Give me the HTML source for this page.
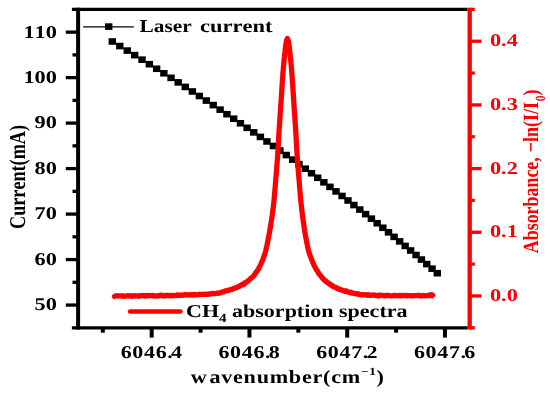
<!DOCTYPE html>
<html><head><meta charset="utf-8"><title>chart</title>
<style>
html,body{margin:0;padding:0;background:#fff;}
svg{display:block;}
text{font-family:"Liberation Serif","DejaVu Serif",serif;font-weight:bold;font-kerning:none;text-rendering:geometricPrecision;}
</style></head><body>
<svg width="550" height="393" viewBox="0 0 550 393">
<rect width="550" height="393" fill="#fff"/>
<polyline fill="none" stroke="#000" stroke-width="1" points="112.3,41.5 119.8,46.0 127.3,50.6 134.7,55.1 142.0,59.7 149.4,64.2 156.6,68.8 163.9,73.3 171.1,77.8 178.2,82.4 185.3,86.9 192.3,91.5 199.4,96.0 206.3,100.6 213.2,105.1 220.1,109.6 226.9,114.2 233.7,118.7 240.4,123.3 247.1,127.8 253.8,132.4 260.4,136.9 266.9,141.4 273.4,146.0 279.9,150.5 286.3,155.1 292.7,159.6 299.0,164.2 305.3,168.7 311.5,173.2 317.7,177.8 323.9,182.3 330.0,186.9 336.0,191.4 342.0,196.0 348.0,200.5 353.9,205.0 359.8,209.6 365.6,214.1 371.4,218.7 377.1,223.2 382.8,227.8 388.5,232.3 394.1,236.8 399.7,241.4 405.2,245.9 410.6,250.5 416.1,255.0 421.4,259.6 426.8,264.1 432.1,268.6 437.3,273.2"/>
<g fill="#000"><rect x="108.60" y="38.20" width="7.4" height="6.6"/><rect x="116.10" y="42.74" width="7.4" height="6.6"/><rect x="123.56" y="47.29" width="7.4" height="6.6"/><rect x="130.97" y="51.83" width="7.4" height="6.6"/><rect x="138.34" y="56.37" width="7.4" height="6.6"/><rect x="145.66" y="60.92" width="7.4" height="6.6"/><rect x="152.94" y="65.46" width="7.4" height="6.6"/><rect x="160.17" y="70.00" width="7.4" height="6.6"/><rect x="167.36" y="74.54" width="7.4" height="6.6"/><rect x="174.50" y="79.09" width="7.4" height="6.6"/><rect x="181.60" y="83.63" width="7.4" height="6.6"/><rect x="188.65" y="88.17" width="7.4" height="6.6"/><rect x="195.65" y="92.72" width="7.4" height="6.6"/><rect x="202.62" y="97.26" width="7.4" height="6.6"/><rect x="209.53" y="101.80" width="7.4" height="6.6"/><rect x="216.40" y="106.34" width="7.4" height="6.6"/><rect x="223.23" y="110.89" width="7.4" height="6.6"/><rect x="230.00" y="115.43" width="7.4" height="6.6"/><rect x="236.74" y="119.97" width="7.4" height="6.6"/><rect x="243.43" y="124.52" width="7.4" height="6.6"/><rect x="250.07" y="129.06" width="7.4" height="6.6"/><rect x="256.67" y="133.60" width="7.4" height="6.6"/><rect x="263.22" y="138.15" width="7.4" height="6.6"/><rect x="269.73" y="142.69" width="7.4" height="6.6"/><rect x="276.19" y="147.23" width="7.4" height="6.6"/><rect x="282.61" y="151.77" width="7.4" height="6.6"/><rect x="288.98" y="156.32" width="7.4" height="6.6"/><rect x="295.31" y="160.86" width="7.4" height="6.6"/><rect x="301.59" y="165.40" width="7.4" height="6.6"/><rect x="307.83" y="169.95" width="7.4" height="6.6"/><rect x="314.02" y="174.49" width="7.4" height="6.6"/><rect x="320.17" y="179.03" width="7.4" height="6.6"/><rect x="326.27" y="183.58" width="7.4" height="6.6"/><rect x="332.32" y="188.12" width="7.4" height="6.6"/><rect x="338.34" y="192.66" width="7.4" height="6.6"/><rect x="344.30" y="197.20" width="7.4" height="6.6"/><rect x="350.22" y="201.75" width="7.4" height="6.6"/><rect x="356.10" y="206.29" width="7.4" height="6.6"/><rect x="361.92" y="210.83" width="7.4" height="6.6"/><rect x="367.71" y="215.38" width="7.4" height="6.6"/><rect x="373.45" y="219.92" width="7.4" height="6.6"/><rect x="379.14" y="224.46" width="7.4" height="6.6"/><rect x="384.79" y="229.01" width="7.4" height="6.6"/><rect x="390.39" y="233.55" width="7.4" height="6.6"/><rect x="395.95" y="238.09" width="7.4" height="6.6"/><rect x="401.46" y="242.63" width="7.4" height="6.6"/><rect x="406.93" y="247.18" width="7.4" height="6.6"/><rect x="412.35" y="251.72" width="7.4" height="6.6"/><rect x="417.73" y="256.26" width="7.4" height="6.6"/><rect x="423.06" y="260.81" width="7.4" height="6.6"/><rect x="428.35" y="265.35" width="7.4" height="6.6"/><rect x="433.59" y="269.89" width="7.4" height="6.6"/></g>
<polyline fill="none" stroke="#ff0000" stroke-width="5.25" stroke-linejoin="round" stroke-linecap="round" points="114.5,296.4 115.0,296.1 115.8,296.0 116.6,295.6 117.4,295.9 118.2,295.9 119.0,296.0 119.8,295.9 120.6,296.0 121.4,295.9 122.2,295.7 123.0,296.2 123.8,296.2 124.6,296.4 125.4,296.0 126.2,295.9 127.0,295.9 127.8,295.6 128.6,296.2 129.4,295.7 130.2,295.7 131.0,295.9 131.8,296.3 132.6,296.0 133.4,295.7 134.2,295.8 135.0,296.1 135.8,295.9 136.6,295.8 137.4,295.9 138.2,296.1 139.0,296.3 139.8,295.6 140.6,295.8 141.4,295.7 142.2,295.4 143.0,295.7 143.8,295.6 144.6,296.1 145.4,295.8 146.2,295.5 147.0,296.0 147.8,295.8 148.6,295.4 149.4,295.7 150.2,295.7 151.0,295.6 151.8,295.8 152.6,295.3 153.4,295.7 154.2,296.0 155.0,295.9 155.8,296.0 156.6,296.0 157.4,296.0 158.2,295.4 159.0,295.9 159.8,295.3 160.6,295.5 161.4,295.2 162.2,295.9 163.0,295.9 163.8,295.6 164.6,296.0 165.4,295.4 166.2,295.6 167.0,295.6 167.8,295.3 168.6,295.6 169.4,295.9 170.2,295.3 171.0,295.7 171.8,295.4 172.6,295.8 173.4,295.5 174.2,295.5 175.0,295.5 175.8,295.4 176.6,295.0 177.4,295.6 178.2,295.0 179.0,295.3 179.8,295.4 180.6,295.0 181.4,295.2 182.2,295.4 183.0,295.1 183.8,294.9 184.6,294.5 185.4,294.9 186.2,294.9 187.0,294.9 187.8,294.8 188.6,295.0 189.4,294.8 190.2,294.9 191.0,295.0 191.8,294.6 192.6,294.7 193.4,295.2 194.2,294.9 195.0,294.4 195.8,294.7 196.6,294.8 197.4,294.9 198.2,294.6 199.0,294.4 199.8,294.4 200.6,294.6 201.4,294.5 202.2,294.3 203.0,294.3 203.8,294.2 204.6,294.4 205.4,294.1 206.2,294.3 207.0,294.3 207.8,294.2 208.6,293.8 209.4,294.3 210.2,293.8 211.0,293.9 211.8,293.6 212.6,293.3 213.4,293.7 214.1,293.6 214.9,293.5 215.7,293.5 216.5,293.2 217.3,293.0 218.1,293.0 218.9,293.3 219.6,292.9 220.4,292.4 221.2,292.5 222.0,292.0 222.8,291.8 223.5,291.9 224.3,291.4 225.1,290.9 225.9,290.8 226.6,290.8 227.4,290.6 228.2,290.6 228.9,290.0 229.7,290.1 230.5,289.8 231.2,289.4 232.0,289.4 232.8,289.0 233.5,288.5 234.3,288.6 235.0,287.8 235.8,287.8 236.5,287.5 237.2,287.3 238.0,286.7 238.7,286.5 239.4,286.2 240.1,286.1 240.8,285.3 241.5,285.1 242.3,284.6 243.0,284.0 243.6,284.5 244.3,283.4 245.0,282.7 245.7,282.9 246.3,281.9 247.0,281.8 247.6,281.4 248.2,280.6 248.9,280.1 249.5,279.6 250.1,279.2 250.7,278.3 251.3,277.8 251.9,277.5 252.4,277.2 253.0,276.5 253.5,276.2 254.1,275.4 254.6,274.5 255.1,273.9 255.5,272.9 256.0,272.5 256.5,271.8 256.9,271.4 257.3,270.8 257.8,270.0 258.2,269.3 258.6,268.6 259.0,267.9 259.3,267.2 259.7,266.5 260.1,265.8 260.4,265.1 260.8,264.3 261.1,263.6 261.4,262.9 261.7,262.1 262.1,261.4 262.4,260.7 262.7,259.9 263.0,259.2 263.3,258.4 263.5,257.7 263.8,256.9 264.1,256.2 264.3,255.4 264.6,254.7 264.8,253.9 265.1,253.1 265.3,252.4 265.5,251.6 265.7,250.8 265.9,250.0 266.1,249.3 266.2,248.5 266.4,247.7 266.6,246.9 266.8,246.2 266.9,245.4 267.1,244.6 267.3,243.8 267.4,243.0 267.6,242.3 267.7,241.5 267.9,240.7 268.1,239.9 268.2,239.1 268.4,238.3 268.5,237.6 268.7,236.8 268.8,236.0 269.0,235.2 269.1,234.4 269.3,233.6 269.4,232.8 269.5,232.0 269.7,231.3 269.8,230.5 270.0,229.7 270.1,228.9 270.2,228.1 270.4,227.3 270.5,226.5 270.6,225.7 270.7,224.9 270.9,224.1 271.0,223.3 271.1,222.5 271.2,221.8 271.4,221.0 271.5,220.2 271.6,219.4 271.7,218.6 271.8,217.8 271.9,217.0 272.1,216.2 272.2,215.4 272.3,214.6 272.4,213.8 272.5,213.0 272.6,212.2 272.7,211.4 272.8,210.6 272.9,209.8 273.0,209.0 273.1,208.2 273.2,207.5 273.3,206.7 273.4,205.9 273.5,205.1 273.6,204.3 273.7,203.5 273.8,202.7 273.8,201.9 273.9,201.1 274.0,200.3 274.1,199.5 274.2,198.7 274.3,197.9 274.3,197.1 274.4,196.3 274.5,195.5 274.5,194.7 274.6,193.9 274.7,193.1 274.7,192.3 274.8,191.5 274.9,190.7 274.9,189.9 275.0,189.1 275.1,188.3 275.1,187.5 275.2,186.8 275.3,186.0 275.3,185.2 275.4,184.4 275.4,183.6 275.5,182.8 275.6,182.0 275.6,181.2 275.7,180.4 275.8,179.6 275.8,178.8 275.9,178.0 276.0,177.2 276.0,176.4 276.1,175.6 276.2,174.8 276.2,174.0 276.3,173.2 276.4,172.4 276.4,171.6 276.5,170.8 276.6,170.0 276.6,169.2 276.7,168.4 276.7,167.6 276.8,166.8 276.9,166.0 276.9,165.2 277.0,164.4 277.1,163.6 277.1,162.8 277.2,162.0 277.2,161.2 277.3,160.4 277.4,159.6 277.4,158.8 277.5,158.0 277.5,157.2 277.6,156.4 277.6,155.6 277.7,154.8 277.7,154.1 277.8,153.3 277.8,152.5 277.9,151.7 277.9,150.9 278.0,150.1 278.0,149.3 278.1,148.5 278.1,147.7 278.2,146.9 278.2,146.1 278.3,145.3 278.3,144.5 278.3,143.7 278.4,142.9 278.4,142.1 278.5,141.3 278.5,140.5 278.6,139.7 278.6,138.9 278.7,138.1 278.7,137.3 278.7,136.5 278.8,135.7 278.8,134.9 278.9,134.1 278.9,133.3 279.0,132.5 279.0,131.7 279.1,130.9 279.1,130.1 279.2,129.3 279.2,128.5 279.3,127.7 279.3,126.9 279.4,126.1 279.5,125.3 279.5,124.5 279.6,123.7 279.6,122.9 279.7,122.1 279.7,121.3 279.8,120.5 279.8,119.7 279.9,118.9 279.9,118.1 280.0,117.3 280.0,116.5 280.1,115.7 280.1,114.9 280.2,114.1 280.2,113.3 280.3,112.5 280.4,111.7 280.4,110.9 280.5,110.1 280.5,109.3 280.6,108.5 280.6,107.7 280.7,106.9 280.7,106.1 280.8,105.3 280.8,104.5 280.9,103.8 281.0,103.0 281.0,102.2 281.1,101.4 281.1,100.6 281.2,99.8 281.2,99.0 281.3,98.2 281.3,97.4 281.4,96.6 281.4,95.8 281.5,95.0 281.5,94.2 281.6,93.4 281.6,92.6 281.7,91.8 281.7,91.0 281.8,90.2 281.8,89.4 281.9,88.6 281.9,87.8 282.0,87.0 282.0,86.2 282.1,85.4 282.1,84.6 282.2,83.8 282.3,83.0 282.3,82.2 282.4,81.4 282.4,80.6 282.5,79.8 282.5,79.0 282.6,78.2 282.6,77.4 282.7,76.6 282.8,75.8 282.8,75.0 282.9,74.2 282.9,73.4 283.0,72.6 283.1,71.8 283.1,71.0 283.2,70.2 283.2,69.4 283.3,68.6 283.4,67.8 283.4,67.0 283.5,66.2 283.6,65.4 283.7,64.6 283.7,63.9 283.8,63.1 283.9,62.3 284.0,61.5 284.0,60.7 284.1,59.9 284.2,59.1 284.3,58.3 284.4,57.5 284.5,56.7 284.5,55.9 284.6,55.1 284.7,54.3 284.8,53.5 284.9,52.7 285.0,51.9 285.1,51.1 285.2,50.3 285.2,49.5 285.3,48.7 285.4,47.9 285.5,47.1 285.6,46.4 285.7,45.6 285.8,44.8 285.9,44.0 286.1,43.2 286.2,42.4 286.3,41.6 286.5,40.8 286.7,40.1 287.0,39.3 287.4,38.6 287.8,39.3 288.1,40.1 288.3,40.8 288.5,41.6 288.6,42.4 288.7,43.2 288.9,44.0 289.0,44.8 289.1,45.6 289.2,46.4 289.3,47.1 289.4,47.9 289.5,48.7 289.6,49.5 289.6,50.3 289.7,51.1 289.8,51.9 289.9,52.7 290.0,53.5 290.1,54.3 290.2,55.1 290.3,55.9 290.3,56.7 290.4,57.5 290.5,58.3 290.6,59.1 290.7,59.9 290.8,60.7 290.8,61.5 290.9,62.3 291.0,63.1 291.1,63.9 291.1,64.6 291.2,65.4 291.3,66.2 291.4,67.0 291.4,67.8 291.5,68.6 291.6,69.4 291.6,70.2 291.7,71.0 291.7,71.8 291.8,72.6 291.9,73.4 291.9,74.2 292.0,75.0 292.0,75.8 292.1,76.6 292.2,77.4 292.2,78.2 292.3,79.0 292.3,79.8 292.4,80.6 292.4,81.4 292.5,82.2 292.5,83.0 292.6,83.8 292.7,84.6 292.7,85.4 292.8,86.2 292.8,87.0 292.9,87.8 292.9,88.6 293.0,89.4 293.0,90.2 293.1,91.0 293.1,91.8 293.2,92.6 293.2,93.4 293.3,94.2 293.3,95.0 293.4,95.8 293.4,96.6 293.5,97.4 293.5,98.2 293.6,99.0 293.6,99.8 293.7,100.6 293.7,101.4 293.8,102.2 293.8,103.0 293.9,103.8 294.0,104.5 294.0,105.3 294.1,106.1 294.1,106.9 294.2,107.7 294.2,108.5 294.3,109.3 294.3,110.1 294.4,110.9 294.4,111.7 294.5,112.5 294.6,113.3 294.6,114.1 294.7,114.9 294.7,115.7 294.8,116.5 294.8,117.3 294.9,118.1 294.9,118.9 295.0,119.7 295.0,120.5 295.1,121.3 295.1,122.1 295.2,122.9 295.2,123.7 295.3,124.5 295.3,125.3 295.4,126.1 295.5,126.9 295.5,127.7 295.6,128.5 295.6,129.3 295.7,130.1 295.7,130.9 295.8,131.7 295.8,132.5 295.9,133.3 295.9,134.1 296.0,134.9 296.0,135.7 296.1,136.5 296.1,137.3 296.1,138.1 296.2,138.9 296.2,139.7 296.3,140.5 296.3,141.3 296.4,142.1 296.4,142.9 296.5,143.7 296.5,144.5 296.5,145.3 296.6,146.1 296.6,146.9 296.7,147.7 296.7,148.5 296.8,149.3 296.8,150.1 296.9,150.9 296.9,151.7 297.0,152.5 297.0,153.3 297.1,154.1 297.1,154.8 297.2,155.6 297.2,156.4 297.3,157.2 297.3,158.0 297.4,158.8 297.4,159.6 297.5,160.4 297.6,161.2 297.6,162.0 297.7,162.8 297.7,163.6 297.8,164.4 297.9,165.2 297.9,166.0 298.0,166.8 298.1,167.6 298.1,168.4 298.2,169.2 298.2,170.0 298.3,170.8 298.4,171.6 298.4,172.4 298.5,173.2 298.6,174.0 298.6,174.8 298.7,175.6 298.8,176.4 298.8,177.2 298.9,178.0 299.0,178.8 299.0,179.6 299.1,180.4 299.2,181.2 299.2,182.0 299.3,182.8 299.4,183.6 299.4,184.4 299.5,185.2 299.5,186.0 299.6,186.8 299.7,187.5 299.7,188.3 299.8,189.1 299.9,189.9 299.9,190.7 300.0,191.5 300.1,192.3 300.1,193.1 300.2,193.9 300.3,194.7 300.3,195.5 300.4,196.3 300.5,197.1 300.5,197.9 300.6,198.7 300.7,199.5 300.8,200.3 300.9,201.1 300.9,201.9 301.0,202.7 301.1,203.5 301.2,204.3 301.3,205.1 301.4,205.9 301.5,206.7 301.6,207.5 301.6,208.3 301.7,209.1 301.8,209.9 301.9,210.7 302.0,211.5 302.1,212.2 302.2,213.0 302.3,213.8 302.4,214.6 302.5,215.4 302.6,216.2 302.7,217.0 302.8,217.8 302.9,218.6 303.0,219.4 303.1,220.2 303.2,221.0 303.3,221.8 303.5,222.6 303.6,223.4 303.7,224.2 303.8,225.0 303.9,225.8 304.0,226.6 304.2,227.4 304.3,228.2 304.4,229.0 304.5,229.8 304.6,230.6 304.8,231.3 304.9,232.1 305.0,232.9 305.2,233.7 305.3,234.5 305.4,235.3 305.6,236.1 305.7,236.9 305.9,237.7 306.0,238.4 306.2,239.2 306.3,240.0 306.5,240.8 306.6,241.6 306.8,242.4 306.9,243.1 307.1,243.9 307.2,244.7 307.4,245.5 307.6,246.2 307.7,247.0 307.9,247.8 308.1,248.6 308.2,249.3 308.4,250.1 308.6,250.9 308.8,251.7 309.1,252.4 309.3,253.2 309.6,253.9 309.8,254.7 310.1,255.5 310.4,256.2 310.7,257.0 310.9,257.7 311.2,258.5 311.5,259.2 311.8,260.0 312.1,260.7 312.4,261.4 312.7,262.2 313.0,262.9 313.3,263.7 313.7,264.4 314.0,265.1 314.4,265.8 314.7,266.5 315.1,267.2 315.5,268.0 315.9,268.7 316.3,269.4 316.7,270.1 317.1,270.8 317.5,271.4 317.9,271.9 318.4,272.7 318.8,273.3 319.3,274.6 319.8,274.7 320.3,275.3 320.8,275.9 321.3,276.6 321.8,277.2 322.3,278.0 322.8,278.4 323.4,279.2 324.0,279.4 324.5,280.2 325.1,280.8 325.7,280.9 326.3,281.7 326.9,282.2 327.6,282.6 328.2,283.1 328.9,283.2 329.5,284.4 330.2,284.4 330.9,284.7 331.6,285.5 332.2,285.4 332.9,286.4 333.6,286.7 334.3,287.1 335.1,287.3 335.8,287.4 336.5,287.6 337.2,288.7 338.0,288.6 338.7,288.9 339.5,289.6 340.2,289.4 341.0,289.8 341.7,290.1 342.5,290.3 343.2,290.4 344.0,290.7 344.7,291.4 345.5,291.5 346.3,290.9 347.1,291.3 347.8,292.1 348.6,292.2 349.4,292.3 350.2,292.8 351.0,292.3 351.7,293.2 352.5,293.1 353.3,293.3 354.1,293.4 354.9,293.7 355.7,293.6 356.5,293.7 357.2,294.1 358.0,294.1 358.8,293.9 359.6,294.6 360.4,294.7 361.2,294.9 362.0,294.7 362.8,294.8 363.6,294.7 364.4,294.7 365.2,294.9 366.0,295.0 366.8,294.8 367.6,295.4 368.4,294.7 369.2,294.9 370.0,295.0 370.8,295.4 371.6,295.1 372.4,295.1 373.2,295.0 374.0,295.1 374.8,295.0 375.6,295.5 376.4,295.5 377.2,295.6 378.0,295.2 378.8,296.0 379.6,295.2 380.4,295.0 381.2,295.4 382.0,295.5 382.8,295.7 383.6,295.3 384.4,295.7 385.2,295.9 386.0,295.4 386.8,295.4 387.6,295.2 388.4,295.6 389.2,295.8 390.0,295.8 390.8,295.8 391.6,295.9 392.4,295.6 393.2,295.8 394.0,295.4 394.8,295.4 395.6,295.7 396.4,295.4 397.2,295.7 398.0,295.9 398.8,295.7 399.6,295.4 400.4,295.4 401.2,295.9 402.0,295.4 402.8,295.6 403.6,295.5 404.4,295.6 405.2,295.8 406.0,295.5 406.8,295.3 407.6,295.9 408.4,295.6 409.2,295.8 410.0,295.6 410.8,295.8 411.6,295.9 412.4,295.9 413.2,295.5 414.0,295.5 414.8,295.7 415.6,295.6 416.4,295.7 417.2,295.4 418.0,295.1 418.8,295.7 419.6,295.8 420.4,295.7 421.2,296.0 422.0,295.8 422.8,295.5 423.6,295.8 424.4,295.6 425.2,295.9 426.0,295.7 426.8,295.7 427.6,295.7 428.4,295.6 429.2,295.2 430.0,295.5 430.8,294.8 431.6,295.3 432.4,294.9 432.6,295.2 432.1,295.7 432.0,295.6"/>
<g stroke="#000" fill="none">
<line x1="71.9" x2="467.7" y1="9.4" y2="9.4" stroke-width="3.3"/>
<line x1="71.9" x2="467.7" y1="327.8" y2="327.8" stroke-width="3.3"/>
<line x1="78.1" x2="78.1" y1="7.8" y2="329.4" stroke-width="4.0"/>
<line x1="65.8" x2="78.1" y1="305.06" y2="305.06" stroke-width="3.3"/>
<line x1="65.8" x2="78.1" y1="259.57" y2="259.57" stroke-width="3.3"/>
<line x1="65.8" x2="78.1" y1="214.09" y2="214.09" stroke-width="3.3"/>
<line x1="65.8" x2="78.1" y1="168.60" y2="168.60" stroke-width="3.3"/>
<line x1="65.8" x2="78.1" y1="123.11" y2="123.11" stroke-width="3.3"/>
<line x1="65.8" x2="78.1" y1="77.63" y2="77.63" stroke-width="3.3"/>
<line x1="65.8" x2="78.1" y1="32.14" y2="32.14" stroke-width="3.3"/>
<line x1="72.5" x2="78.1" y1="282.31" y2="282.31" stroke-width="3.3"/>
<line x1="72.5" x2="78.1" y1="236.83" y2="236.83" stroke-width="3.3"/>
<line x1="72.5" x2="78.1" y1="191.34" y2="191.34" stroke-width="3.3"/>
<line x1="72.5" x2="78.1" y1="145.86" y2="145.86" stroke-width="3.3"/>
<line x1="72.5" x2="78.1" y1="100.37" y2="100.37" stroke-width="3.3"/>
<line x1="72.5" x2="78.1" y1="54.89" y2="54.89" stroke-width="3.3"/>
<line x1="151.70" x2="151.70" y1="327.8" y2="337.6" stroke-width="4.0"/>
<line x1="102.83" x2="102.83" y1="327.8" y2="332.7" stroke-width="4.0"/>
<line x1="249.45" x2="249.45" y1="327.8" y2="337.6" stroke-width="4.0"/>
<line x1="200.57" x2="200.57" y1="327.8" y2="332.7" stroke-width="4.0"/>
<line x1="347.20" x2="347.20" y1="327.8" y2="337.6" stroke-width="4.0"/>
<line x1="298.33" x2="298.33" y1="327.8" y2="332.7" stroke-width="4.0"/>
<line x1="444.95" x2="444.95" y1="327.8" y2="337.6" stroke-width="4.0"/>
<line x1="396.07" x2="396.07" y1="327.8" y2="332.7" stroke-width="4.0"/>
</g>
<g stroke="#ff0000" fill="none">
<line x1="469.7" x2="469.7" y1="7.8" y2="329.4" stroke-width="4.3"/>
<line x1="469.7" x2="474.8" y1="327.80" y2="327.80" stroke-width="3.3"/>
<line x1="469.7" x2="481.5" y1="295.96" y2="295.96" stroke-width="3.3"/>
<line x1="469.7" x2="474.8" y1="264.12" y2="264.12" stroke-width="3.3"/>
<line x1="469.7" x2="481.5" y1="232.28" y2="232.28" stroke-width="3.3"/>
<line x1="469.7" x2="474.8" y1="200.44" y2="200.44" stroke-width="3.3"/>
<line x1="469.7" x2="481.5" y1="168.60" y2="168.60" stroke-width="3.3"/>
<line x1="469.7" x2="474.8" y1="136.76" y2="136.76" stroke-width="3.3"/>
<line x1="469.7" x2="481.5" y1="104.92" y2="104.92" stroke-width="3.3"/>
<line x1="469.7" x2="474.8" y1="73.08" y2="73.08" stroke-width="3.3"/>
<line x1="469.7" x2="481.5" y1="41.24" y2="41.24" stroke-width="3.3"/>
<line x1="469.7" x2="474.8" y1="9.40" y2="9.40" stroke-width="3.3"/>
</g>
<text x="34.6" y="310.1" textLength="22.3" lengthAdjust="spacingAndGlyphs" font-size="18.0" fill="#000">50</text>
<text x="34.6" y="264.7" textLength="22.3" lengthAdjust="spacingAndGlyphs" font-size="18.0" fill="#000">60</text>
<text x="34.6" y="219.3" textLength="22.3" lengthAdjust="spacingAndGlyphs" font-size="18.0" fill="#000">70</text>
<text x="34.6" y="173.9" textLength="22.3" lengthAdjust="spacingAndGlyphs" font-size="18.0" fill="#000">80</text>
<text x="34.6" y="128.4" textLength="22.3" lengthAdjust="spacingAndGlyphs" font-size="18.0" fill="#000">90</text>
<text x="23.4" y="83.0" textLength="33.5" lengthAdjust="spacingAndGlyphs" font-size="18.0" fill="#000">100</text>
<text x="23.4" y="37.6" textLength="33.5" lengthAdjust="spacingAndGlyphs" font-size="18.0" fill="#000">110</text>
<text transform="translate(120.70,358.4) scale(1.222,1)" font-size="18.0">6<tspan dx="0.55">0</tspan><tspan dx="0.55">4</tspan><tspan dx="0.55">6</tspan><tspan dx="0.55">.</tspan><tspan dx="-1.5">4</tspan></text>
<text transform="translate(218.45,358.4) scale(1.222,1)" font-size="18.0">6<tspan dx="0.55">0</tspan><tspan dx="0.55">4</tspan><tspan dx="0.55">6</tspan><tspan dx="0.55">.</tspan><tspan dx="-1.5">8</tspan></text>
<text transform="translate(316.20,358.4) scale(1.222,1)" font-size="18.0">6<tspan dx="0.55">0</tspan><tspan dx="0.55">4</tspan><tspan dx="0.55">7</tspan><tspan dx="0.55">.</tspan><tspan dx="-1.5">2</tspan></text>
<text transform="translate(413.95,358.4) scale(1.222,1)" font-size="18.0">6<tspan dx="0.55">0</tspan><tspan dx="0.55">4</tspan><tspan dx="0.55">7</tspan><tspan dx="0.55">.</tspan><tspan dx="-1.5">6</tspan></text>
<text x="490.0" y="301.0" textLength="27.8" lengthAdjust="spacingAndGlyphs" font-size="18.0" fill="#ff0000">0.0</text>
<text x="490.0" y="237.3" textLength="27.8" lengthAdjust="spacingAndGlyphs" font-size="18.0" fill="#ff0000">0.1</text>
<text x="490.0" y="173.6" textLength="27.8" lengthAdjust="spacingAndGlyphs" font-size="18.0" fill="#ff0000">0.2</text>
<text x="490.0" y="109.9" textLength="27.8" lengthAdjust="spacingAndGlyphs" font-size="18.0" fill="#ff0000">0.3</text>
<text x="490.0" y="46.2" textLength="27.8" lengthAdjust="spacingAndGlyphs" font-size="18.0" fill="#ff0000">0.4</text>
<text transform="translate(190.8,382.7) scale(1.190,1)" textLength="162.2" lengthAdjust="spacing" font-size="18.6">w<tspan dx="1.6">avenumber(cm</tspan><tspan font-size="11" dy="-8">−1</tspan><tspan dy="8">)</tspan></text>
<line x1="83.2" x2="133.8" y1="26.8" y2="26.8" stroke="#000" stroke-width="1.15"/>
<rect x="105" y="23.3" width="7.4" height="6.6" fill="#000"/>
<text x="139.5" y="32.4" textLength="52.2" lengthAdjust="spacingAndGlyphs" font-size="18.2" fill="#000">Laser</text>
<text x="200.0" y="32.4" textLength="72.4" lengthAdjust="spacingAndGlyphs" font-size="18.2" fill="#000">current</text>
<line x1="130.0" x2="180.5" y1="311.45" y2="311.45" stroke="#ff0000" stroke-width="4.4" stroke-linecap="round"/>
<text x="186" y="316.6" textLength="221.5" lengthAdjust="spacingAndGlyphs" font-size="18.2">CH<tspan font-size="12.5" dy="5">4</tspan><tspan dy="-5"> absorption spectra</tspan></text>
<text transform="translate(24.6,229.0) rotate(-90) scale(1,1.27)" font-size="17.8" textLength="104" lengthAdjust="spacingAndGlyphs">Current(mA)</text>
<text transform="translate(538.2,253.2) rotate(-90) scale(1,1.22)" font-size="17.8" fill="#ff0000" textLength="96" lengthAdjust="spacingAndGlyphs">Absorbance,</text>
<text transform="translate(538.2,152.2) rotate(-90) scale(1,1.22)" font-size="17.8" fill="#ff0000" textLength="50.2" lengthAdjust="spacingAndGlyphs">−ln(I/I</text>
<text transform="translate(544.6,101.3) rotate(-90) scale(1,1.22)" font-size="11.5" fill="#ff0000">0</text>
<text transform="translate(538.2,95.6) rotate(-90) scale(1,1.22)" font-size="17.8" fill="#ff0000">)</text>
</svg>
</body></html>
